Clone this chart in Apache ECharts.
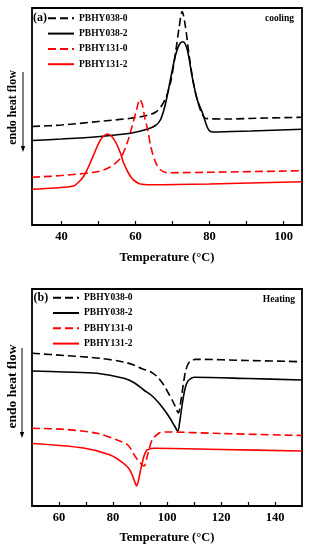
<!DOCTYPE html>
<html>
<head>
<meta charset="utf-8">
<script src="https://cdn.jsdelivr.net/npm/echarts@6/dist/echarts.min.js"></script>
<style>html,body{margin:0;padding:0;background:#fff}#c{width:309px;height:550px}</style>
</head>
<body>
<div id="c"></div>
<script>
// ---- names ----
var names = ['PBHY038-0', 'PBHY038-2', 'PBHY131-0', 'PBHY131-2'];
// ---- axis ticks ----
var coolTicks = [40, 50, 60, 70, 80, 90, 100];
var coolLabels = [40, 60, 80, 100];
var heatTicks = [60, 70, 80, 90, 100, 110, 120, 130, 140];
var heatLabels = [60, 80, 100, 120, 140];
// ---- (a) cooling: [Temperature, endo heat flow (a.u.)] ----
var cool038_0 = [[32,98.5],[40,100],[50,103.5],[58.6,106.7],[63,109.5],[65.5,113],[67,119],[68.3,128],[69.6,145],[70.8,172],[71.8,198],[72.6,213.5],[73.5,198],[74.5,169],[75.8,139],[77,121],[78,111],[79,106.5],[85,106],[95,107],[105,107.7]];
var cool038_2 = [[32,84.5],[40,86],[49.6,88.3],[58.6,91.7],[63.1,95.7],[65.4,99.5],[66.7,105],[67.8,117],[68.6,130],[69.4,145],[70.8,170],[71.9,181],[72.8,183.3],[74,175],[75.3,148.3],[76.7,125],[78.1,112],[79,101.7],[79.8,95],[80.8,93],[91.2,94],[105,95.7]];
var cool131_0 = [[32,47.7],[40,49.5],[49.6,53.3],[53.2,58.3],[55.9,66.7],[57.7,81.7],[59,98],[60.4,117],[61.1,125.5],[61.8,121],[62.5,107],[63.3,95],[64.2,77],[65.5,62],[66.8,55],[68.6,52.3],[80,52.7],[105,54.3]];
var cool131_2 = [[32,35.7],[38,37],[43.2,39],[44.5,42.5],[45.9,48.3],[47,56],[47.7,61.7],[49,73],[50,81.7],[51.2,88.5],[52.4,91],[53.6,88.5],[55,80],[56,71],[56.8,61.7],[58,52.5],[59,46.7],[60,43.5],[61.3,41],[64,40.3],[80,41],[105,43.3]];
// ---- (b) heating ----
var heat038_0 = [[50,152.7],[62,150.5],[75.3,147.7],[84,144],[87.7,141],[91,137],[93.9,134.3],[96.5,129],[98.8,121],[100.5,113],[101.9,106],[103,100],[104.2,93],[105.2,106],[106,121],[106.8,134],[107.8,142],[108.8,145],[110.6,146.7],[130,145.5],[150,144.3]];
var heat038_2 = [[50,135],[62,134],[74.1,132.7],[84,127.7],[88,123],[91.4,116],[94.5,110],[97,103],[99.3,95],[101.3,87],[102.8,80],[104,75],[104.8,86],[105.6,101],[106.4,114],[107.2,122],[108.1,126],[110,128.7],[130,127.5],[150,126]];
var heat131_0 = [[50,77.7],[61.6,76.7],[74.1,72.7],[81.5,66],[85.5,61],[88.3,49.3],[90.1,43],[91.5,40],[92.8,51],[94.5,66],[97,72.7],[99.4,74],[120,72.5],[150,70.5]];
var heat131_2 = [[50,62.5],[69.1,58],[79,51],[83.9,42.7],[86,37],[87.1,31],[88.1,24],[88.7,20],[89.4,25],[90.1,34.3],[91.4,49.3],[92.3,55],[93.2,56.7],[95.1,57.7],[120,56.5],[150,55]];

var FONT = 'Liberation Serif';
var dash = [8, 4];
function mk(name, data, color, dashed, idx) {
  return {
    name: name, type: 'line', data: data, xAxisIndex: idx, yAxisIndex: idx,
    symbol: 'none', showSymbol: false, smooth: 0.3, animation: false,
    lineStyle: { color: color, width: 1.6, type: dashed ? dash : 'solid' },
    itemStyle: { color: color }
  };
}
function xAx(idx, min, max, ticks, labels, gap) {
  return {
    type: 'value', gridIndex: idx, min: min, max: max,
    axisLine: { show: false }, splitLine: { show: false },
    axisTick: { show: true, inside: true, length: 4, customValues: ticks, lineStyle: { color: '#000', width: 1.2 } },
    axisLabel: { customValues: labels, margin: 5, color: '#000', fontFamily: FONT, fontWeight: 'bold', fontSize: 12.5 },
    name: 'Temperature (\u00B0C)', nameLocation: 'middle', nameGap: gap,
    nameTextStyle: { color: '#000', fontFamily: FONT, fontWeight: 'bold', fontSize: 12.5 }
  };
}
function yAx(idx) {
  return { type: 'value', gridIndex: idx, min: 0, max: 217, show: false };
}
function lg(left, top) {
  return {
    data: names, orient: 'vertical', left: left, top: top, padding: 0,
    itemWidth: 26, itemHeight: 10, itemGap: 5.3,
    itemStyle: { opacity: 0, borderWidth: 0 },
    lineStyle: { width: 2 },
    textStyle: { color: '#000', fontFamily: FONT, fontWeight: 'bold', fontSize: 9.5, lineHeight: 10 },
    selectedMode: false
  };
}
function txt(x, y, s, size, align, rot) {
  return { type: 'text', x: x, y: y, rotation: rot || 0,
    style: { text: s, fill: '#000', font: 'bold ' + size + 'px "' + FONT + '"', textAlign: align, textVerticalAlign: 'middle' } };
}
function arrow(x, y1, y2) {
  return [
    { type: 'line', shape: { x1: x, y1: y1, x2: x, y2: y2 - 5 }, style: { stroke: '#000', lineWidth: 1 } },
    { type: 'polygon', shape: { points: [[x - 2.2, y2 - 6], [x + 2.2, y2 - 6], [x, y2]] }, style: { fill: '#000' } }
  ];
}

var chart = echarts.init(document.getElementById('c'), null, { renderer: 'canvas' });
chart.setOption({
  animation: false,
  backgroundColor: '#fff',
  grid: [
    { left: 32, top: 8, width: 270, height: 217, show: true, borderColor: '#000', borderWidth: 1.8, backgroundColor: 'transparent' },
    { left: 32, top: 289, width: 270, height: 217, show: true, borderColor: '#000', borderWidth: 1.8, backgroundColor: 'transparent' }
  ],
  xAxis: [xAx(0, 32, 105, coolTicks, coolLabels, 26), xAx(1, 50, 150, heatTicks, heatLabels, 25)],
  yAxis: [yAx(0), yAx(1)],
  legend: [lg(47, 13.3), lg(52, 292.7)],
  series: [
    mk(names[0], cool038_0, '#000', true, 0),
    mk(names[1], cool038_2, '#000', false, 0),
    mk(names[2], cool131_0, '#f00', true, 0),
    mk(names[3], cool131_2, '#f00', false, 0),
    mk(names[0], heat038_0, '#000', true, 1),
    mk(names[1], heat038_2, '#000', false, 1),
    mk(names[2], heat131_0, '#f00', true, 1),
    mk(names[3], heat131_2, '#f00', false, 1)
  ],
  graphic: [
    txt(33, 18.3, '(a)', 12, 'left'),
    txt(33.5, 297.7, '(b)', 12, 'left'),
    txt(294, 18.3, 'cooling', 9.5, 'right'),
    txt(295, 299.3, 'Heating', 9.5, 'right'),
    txt(13, 107.5, 'endo heat flow', 12, 'center', Math.PI / 2),
    txt(13, 386.5, 'endo heat flow', 13.5, 'center', Math.PI / 2)
  ].concat(arrow(23, 72, 152)).concat(arrow(22, 348, 438))
});
</script>
</body>
</html>
